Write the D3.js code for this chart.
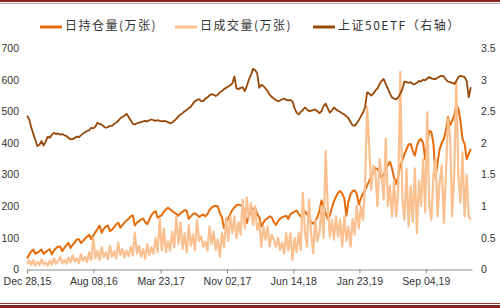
<!DOCTYPE html>
<html>
<head>
<meta charset="utf-8">
<script src="https://cdnjs.cloudflare.com/ajax/libs/d3/7.8.5/d3.min.js"></script>
<style>
  body { margin: 0; background: #fff; }
  svg { display: block; }
</style>
</head>
<body>
<script>
// weekly samples (Mondays)
var firstWeek = new Date(2015, 11, 28);
var afterLastWeek = new Date(2020, 1, 4);
var weeks = d3.timeMonday.range(firstWeek, afterLastWeek);

var tickDates = ["2015-12-28", "2016-08-08", "2017-03-23", "2017-11-02", "2018-06-14", "2019-01-23", "2019-09-04"];
var leftTicks = [0, 100, 200, 300, 400, 500, 600, 700];
var rightTicks = [0, 0.5, 1, 1.5, 2, 2.5, 3, 3.5];
var seriesNames = ["日持仓量(万张)", "日成交量(万张)", "上证50ETF（右轴）"];

// 日持仓量(万张)
var holding = [
  35, 46, 57, 63, 50, 53, 58, 63, 50, 55,
  60, 64, 48, 60, 67, 73, 72, 58, 68, 76,
  84, 68, 78, 86, 95, 96, 84, 90, 98, 104,
  110, 96, 108, 118, 128, 139, 116, 128, 136, 139,
  121, 126, 134, 142, 148, 132, 140, 148, 155, 160,
  168, 171, 139, 148, 153, 158, 161, 150, 143, 158,
  172, 180, 185, 164, 168, 172, 183, 190, 195, 190,
  185, 180, 176, 170, 178, 182, 188, 186, 160, 168,
  175, 178, 172, 166, 170, 174, 168, 175, 188, 195,
  200, 201, 199, 178, 165, 131, 148, 160, 175, 188,
  196, 203, 205, 203, 200, 175, 147, 168, 184, 192,
  195, 175, 165, 136, 148, 158, 162, 168, 165, 150,
  141, 152, 160, 165, 168, 170, 160, 175, 179, 183,
  186, 176, 168, 178, 184, 175, 163, 150, 145, 154,
  165, 185, 218, 200, 178, 160, 170, 195, 215, 230,
  243, 248, 240, 225, 170, 215, 238, 248, 250, 240,
  205, 225, 240, 250, 265, 280, 295, 305, 320, 318,
  304, 290, 300, 315, 330, 340, 320, 290, 270, 295,
  330, 345, 365, 380, 395, 397, 375, 360, 390, 407,
  413, 400, 349, 400, 439, 434, 397, 290, 340, 381,
  400, 413, 440, 482, 455, 470, 487, 519, 509, 470,
  413, 397, 349, 365, 381
];

// 日成交量(万张)
var volume = [
  18, 28, 15, 30, 12, 25, 14, 32, 16, 22,
  12, 28, 15, 35, 18, 26, 40, 20, 30, 18,
  38, 22, 45, 25, 36, 20, 48, 28, 40, 24,
  55, 30, 100, 35, 60, 30, 70, 38, 55, 32,
  75, 40, 58, 35, 85, 45, 65, 38, 60, 42,
  72, 45, 116, 50, 75, 40, 65, 35, 80, 45,
  70, 50, 100, 55, 159, 60, 130, 55, 90, 60,
  120, 70, 168, 80, 150, 65, 115, 55, 140, 75,
  110, 60, 157, 90, 104, 72, 88, 60, 136, 80,
  120, 62, 95, 40, 115, 70, 163, 90, 168, 115,
  168, 99, 150, 110, 221, 130, 227, 160, 210, 140,
  200, 125, 150, 72, 136, 94, 136, 72, 110, 94,
  72, 100, 62, 85, 51, 115, 60, 115, 30, 100,
  55, 115, 62, 243, 120, 72, 221, 115, 51, 157,
  90, 115, 200, 100, 375, 200, 104, 157, 94, 168,
  104, 157, 72, 168, 90, 136, 72, 160, 110, 200,
  130, 200, 157, 264, 515, 391, 250, 328, 306, 200,
  349, 296, 221, 413, 200, 264, 168, 280, 168, 250,
  625, 221, 157, 317, 136, 264, 150, 320, 115, 280,
  200, 349, 180, 497, 200, 157, 300, 349, 168, 280,
  328, 147, 300, 475, 423, 168, 300, 594, 296, 211,
  370, 168, 300, 168, 157
];

// 上证50ETF (right axis)
var etf = [
  2.43, 2.38, 2.25, 2.15, 2.05, 1.95, 1.97, 2.03, 1.96, 2.02,
  2.10, 2.08, 2.13, 2.16, 2.14, 2.15, 2.13, 2.14, 2.12, 2.11,
  2.08, 2.06, 2.06, 2.08, 2.10, 2.09, 2.12, 2.15, 2.17, 2.19,
  2.20, 2.24, 2.23, 2.26, 2.32, 2.30, 2.29, 2.26, 2.24, 2.25,
  2.27, 2.27, 2.30, 2.32, 2.35, 2.39, 2.41, 2.43, 2.46, 2.41,
  2.36, 2.30, 2.29, 2.31, 2.32, 2.33, 2.34, 2.35, 2.34, 2.36,
  2.37, 2.36, 2.35, 2.36, 2.35, 2.34, 2.35, 2.34, 2.33, 2.31,
  2.32, 2.35, 2.38, 2.42, 2.45, 2.47, 2.50, 2.52, 2.55, 2.57,
  2.62, 2.66, 2.68, 2.69, 2.66, 2.66, 2.70, 2.72, 2.75, 2.77,
  2.76, 2.74, 2.76, 2.80, 2.82, 2.85, 2.87, 2.89, 2.91, 2.94,
  3.05, 2.86, 2.85, 2.87, 2.88, 2.82, 2.90, 3.00, 3.08, 3.17,
  3.15, 3.10, 2.87, 2.92, 2.90, 2.86, 2.82, 2.76, 2.73, 2.70,
  2.68, 2.66, 2.67, 2.69, 2.70, 2.68, 2.67, 2.68, 2.66, 2.55,
  2.48, 2.45, 2.49, 2.52, 2.56, 2.53, 2.50, 2.51, 2.52, 2.53,
  2.50, 2.47, 2.50, 2.58, 2.62, 2.55, 2.48, 2.51, 2.56, 2.53,
  2.51, 2.49, 2.47, 2.45, 2.42, 2.39, 2.33, 2.28, 2.27, 2.31,
  2.36, 2.42, 2.48, 2.56, 2.80, 2.78, 2.75, 2.78, 2.83, 2.86,
  2.93, 2.98, 3.01, 2.93, 2.86, 2.78, 2.72, 2.70, 2.69, 2.72,
  2.78, 2.85, 2.97, 2.96, 2.95, 2.96, 2.93, 2.93, 2.95, 2.98,
  2.97, 3.00, 2.99, 3.02, 3.04, 3.02, 3.01, 3.01, 3.03, 3.05,
  3.06, 3.05, 3.00, 2.97, 2.96, 2.95, 2.93, 2.98, 3.04, 3.06,
  3.05, 3.04, 2.98, 2.72, 2.88
];

var colors = ["#e46c0a", "#fac090", "#984807"];

var svg = d3.select("body").append("svg")
  .attr("width", 500)
  .attr("height", 308);

// frame lines top and bottom
svg.append("rect").attr("x", 0).attr("y", 0).attr("width", 500).attr("height", 2).attr("fill", "#8b2323");
svg.append("rect").attr("x", 0).attr("y", 3).attr("width", 500).attr("height", 1).attr("fill", "#c99a9a");
svg.append("rect").attr("x", 0).attr("y", 303).attr("width", 500).attr("height", 1).attr("fill", "#9b3b3b");
svg.append("rect").attr("x", 0).attr("y", 305).attr("width", 500).attr("height", 3).attr("fill", "#8b2323");

var x = d3.scaleTime()
  .domain([new Date(2015, 11, 28), new Date(2020, 1, 7)])
  .range([27, 472]);

var yLeft = d3.scaleLinear().domain([0, 700]).range([269.5, 48]);
var yRight = d3.scaleLinear().domain([0, 3.5]).range([269.5, 48]);

var parse = d3.timeParse("%Y-%m-%d");
var fmt = d3.timeFormat("%b %d,%y");

var axisFont = "'Liberation Sans', Arial, sans-serif";

// x axis
var gx = svg.append("g")
  .attr("transform", "translate(0,269.5)")
  .call(d3.axisBottom(x)
    .tickValues(tickDates.map(parse))
    .tickFormat(fmt)
    .tickSize(4)
    .tickSizeOuter(0)
    .tickPadding(4));
gx.select(".domain").attr("stroke", "#8c8c8c");
gx.selectAll(".tick line").attr("stroke", "#8c8c8c");
gx.selectAll("text")
  .attr("fill", "#333")
  .style("font-family", axisFont)
  .style("font-size", "10.5px");

// left axis
var gl = svg.append("g")
  .attr("transform", "translate(22,0)")
  .call(d3.axisLeft(yLeft).tickValues(leftTicks).tickSize(0).tickPadding(3));
gl.select(".domain").remove();
gl.selectAll("text")
  .attr("fill", "#333")
  .style("font-family", axisFont)
  .style("font-size", "10.5px");

// right axis
var gr = svg.append("g")
  .attr("transform", "translate(478,0)")
  .call(d3.axisRight(yRight).tickValues(rightTicks).tickSize(0).tickPadding(3)
    .tickFormat(d3.format("~g")));
gr.select(".domain").remove();
gr.selectAll("text")
  .attr("fill", "#333")
  .style("font-family", axisFont)
  .style("font-size", "10.5px");

// lines
var lineLeft = d3.line()
  .x(function(d, i) { return x(weeks[i]); })
  .y(function(d) { return yLeft(d); });

var lineRight = d3.line()
  .x(function(d, i) { return x(weeks[i]); })
  .y(function(d) { return yRight(d); });

svg.append("path")
  .datum(holding)
  .attr("d", lineLeft)
  .attr("fill", "none")
  .attr("stroke", colors[0])
  .attr("stroke-width", 2)
  .attr("stroke-linejoin", "round");

svg.append("path")
  .datum(volume)
  .attr("d", lineLeft)
  .attr("fill", "none")
  .attr("stroke", colors[1])
  .attr("stroke-width", 2.2)
  .attr("stroke-linejoin", "round");

svg.append("path")
  .datum(etf)
  .attr("d", lineRight)
  .attr("fill", "none")
  .attr("stroke", colors[2])
  .attr("stroke-width", 1.8)
  .attr("stroke-linejoin", "round");

// legend
var legendX = [40, 175, 313];
var legend = svg.selectAll(".legend")
  .data(seriesNames)
  .enter()
  .append("g")
  .attr("class", "legend")
  .attr("transform", function(d, i) { return "translate(" + legendX[i] + ",27)"; });

legend.append("line")
  .attr("x1", 0).attr("x2", 22)
  .attr("y1", 0).attr("y2", 0)
  .attr("stroke", function(d, i) { return colors[i]; })
  .attr("stroke-width", 3);

legend.append("text")
  .attr("x", 25)
  .attr("y", 0)
  .attr("dominant-baseline", "middle")
  .style("font-family", "'Noto Sans CJK SC', 'Liberation Sans', sans-serif")
  .style("font-size", "12px")
  .style("letter-spacing", "1.5px")
  .attr("fill", "#333")
  .text(function(d) { return d; });
</script>
</body>
</html>
